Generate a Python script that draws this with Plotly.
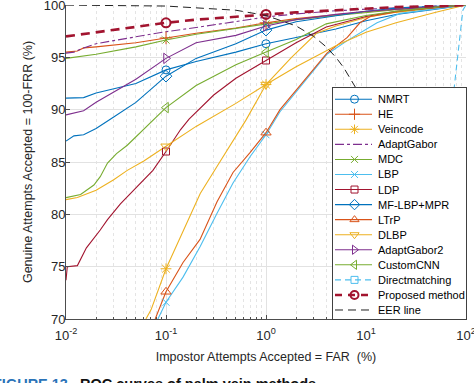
import plotly.graph_objects as go

# ---------------- data ----------------
FAR_TICKS = [0.01, 0.1, 1, 10, 100]
FAR_TICK_TEXT = ["10<sup>-2</sup>", "10<sup>-1</sup>", "10<sup>0</sup>", "10<sup>1</sup>", "10<sup>2</sup>"]
GAR_TICKS = [70, 75, 80, 85, 90, 95, 100]
MARKER_FAR = [0.1, 1]

nmrt_far = [0.01, 0.015, 0.02, 0.03, 0.05, 0.1, 0.2, 0.5, 1, 2, 5, 10, 20, 50, 100]
nmrt_gar = [91.1, 91.15, 91.6, 92.0, 92.5, 93.8, 94.6, 95.5, 96.3, 96.9, 97.7, 98.5, 99.1, 99.6, 100]

he_far = [0.01, 0.013, 0.015, 0.02, 0.05, 0.1, 0.2, 0.5, 1, 2, 5, 10, 20, 50, 100]
he_gar = [95.5, 95.6, 95.9, 96.0, 96.4, 96.85, 97.3, 97.8, 98.3, 98.7, 99.1, 99.35, 99.6, 99.85, 100]

veincode_far = [0.063, 0.071, 0.1, 0.15, 0.22, 0.32, 0.47, 0.63, 1, 1.8, 3.2, 5, 10, 20, 50, 100]
veincode_gar = [70.0, 70.9, 74.8, 78.5, 82.0, 84.5, 87.1, 89.0, 92.4, 95.0, 97.3, 98.0, 98.8, 99.3, 99.7, 100]

adaptgabor_far = [0.01, 0.012, 0.015, 0.02, 0.03, 0.05, 0.1, 0.2, 0.5, 1, 2, 5, 10, 20, 50, 100]
adaptgabor_gar = [95.4, 95.5, 95.9, 96.3, 96.6, 96.95, 97.45, 97.85, 98.4, 98.85, 99.15, 99.45, 99.6, 99.75, 99.9, 100]

mdc_far = [0.01, 0.02, 0.05, 0.1, 0.2, 0.5, 1, 2, 5, 10, 20, 50, 100]
mdc_gar = [94.9, 95.3, 96.0, 96.65, 97.2, 97.75, 98.2, 98.6, 99.0, 99.3, 99.55, 99.8, 100]

lbp_far = [0.083, 0.1, 0.148, 0.219, 0.324, 0.468, 0.692, 1, 1.38, 2.57, 4.07, 6.5, 8.7, 12.9, 22, 55, 100]
lbp_gar = [70.0, 71.6, 74.0, 76.9, 80.1, 83.0, 85.5, 87.6, 89.8, 92.9, 95.3, 96.6, 97.3, 98.3, 99.2, 99.7, 100]

ldp_far = [0.01, 0.0103, 0.013, 0.016, 0.022, 0.026, 0.035, 0.051, 0.074, 0.1, 0.14, 0.17, 0.3, 0.5, 1, 2, 4, 10, 20, 100]
ldp_gar = [73.7, 75.0, 75.1, 76.8, 78.5, 79.5, 81.0, 82.6, 84.2, 86.0, 88.1, 89.1, 91.4, 93.0, 94.7, 96.4, 97.9, 98.9, 99.4, 100]

mflbp_far = [0.01, 0.012, 0.015, 0.02, 0.03, 0.05, 0.1, 0.2, 0.5, 1, 2, 5, 10, 20, 100]
mflbp_gar = [87.0, 87.5, 87.6, 88.2, 89.3, 90.7, 93.2, 94.9, 96.3, 97.6, 98.4, 99.0, 99.4, 99.7, 100]

ltrp_far = [0.078, 0.1, 0.148, 0.219, 0.324, 0.468, 0.692, 1, 1.38, 2.57, 4.07, 6.5, 8.7, 11, 22, 50, 100]
ltrp_gar = [70.0, 72.6, 75.4, 77.6, 81.2, 84.0, 85.9, 87.8, 90.0, 93.1, 95.4, 96.9, 98.3, 98.9, 99.4, 99.8, 100]

dlbp_far = [0.01, 0.013, 0.02, 0.03, 0.041, 0.06, 0.1, 0.2, 0.5, 1, 2, 5, 10, 20, 50, 100]
dlbp_gar = [81.4, 81.6, 82.3, 83.3, 84.2, 85.1, 86.5, 88.4, 90.6, 92.4, 94.1, 96.1, 97.4, 98.3, 99.3, 100]

adaptgabor2_far = [0.01, 0.015, 0.02, 0.03, 0.05, 0.1, 0.2, 0.5, 1, 2, 5, 10, 100]
adaptgabor2_gar = [89.5, 89.9, 90.7, 91.7, 92.9, 94.9, 96.4, 97.1, 98.0, 98.6, 99.1, 99.4, 100]

customcnn_far = [0.01, 0.014, 0.019, 0.022, 0.026, 0.032, 0.041, 0.055, 0.074, 0.1, 0.2, 0.5, 1, 2, 4, 10, 20, 50, 100]
customcnn_gar = [81.6, 81.9, 82.8, 83.6, 84.9, 85.8, 86.6, 87.8, 89.0, 90.2, 92.3, 94.3, 95.5, 96.7, 98.2, 99.0, 99.4, 99.8, 100]

direct_far = [42, 57, 78, 93, 100]
direct_gar = [70.0, 81.5, 92.8, 99.5, 100]

proposed_far = [0.01, 0.02, 0.05, 0.1, 0.2, 0.5, 1, 2, 5, 10, 20, 50, 100]
proposed_gar = [97.0, 97.4, 97.9, 98.3, 98.6, 98.9, 99.1, 99.3, 99.5, 99.65, 99.8, 99.9, 100]

eer_far = [0.01, 0.1, 0.5, 1, 2, 3, 4, 5, 6, 8, 10, 13, 16, 20, 25, 30]
eer_gar = [99.99, 99.9, 99.5, 99, 98, 97, 96, 95, 94, 92, 90, 87, 84, 80, 75, 70]

# ---------------- styles ----------------
BLUE, ORANGE, YELLOW, PURPLE = "#0072BD", "#D95319", "#EDB120", "#7E2F8E"
GREEN, CYAN, MAROON = "#77AC30", "#4DBEEE", "#A2142F"

series = [
    dict(name="NMRT", far=nmrt_far, gar=nmrt_gar, color=BLUE, dash="solid", symbol="circle-open", w=1.1, ms=8),
    dict(name="HE", far=he_far, gar=he_gar, color=ORANGE, dash="solid", symbol="cross-thin-open", w=1.1, ms=9),
    dict(name="Veincode", far=veincode_far, gar=veincode_gar, color=YELLOW, dash="solid", symbol="asterisk-open", w=1.1, ms=9),
    dict(name="AdaptGabor", far=adaptgabor_far, gar=adaptgabor_gar, color=PURPLE, dash="dashdot", symbol=None, w=1.1, ms=0),
    dict(name="MDC", far=mdc_far, gar=mdc_gar, color=GREEN, dash="solid", symbol="x-thin-open", w=1.1, ms=7),
    dict(name="LBP", far=lbp_far, gar=lbp_gar, color=CYAN, dash="solid", symbol="x-thin-open", w=1.1, ms=7),
    dict(name="LDP", far=ldp_far, gar=ldp_gar, color=MAROON, dash="solid", symbol="square-open", w=1.1, ms=7),
    dict(name="MF-LBP+MPR", far=mflbp_far, gar=mflbp_gar, color=BLUE, dash="solid", symbol="diamond-open", w=1.1, ms=9),
    dict(name="LTrP", far=ltrp_far, gar=ltrp_gar, color=ORANGE, dash="solid", symbol="triangle-up-open", w=1.1, ms=9),
    dict(name="DLBP", far=dlbp_far, gar=dlbp_gar, color=YELLOW, dash="solid", symbol="triangle-down-open", w=1.1, ms=9),
    dict(name="AdaptGabor2", far=adaptgabor2_far, gar=adaptgabor2_gar, color=PURPLE, dash="solid", symbol="triangle-right-open", w=1.1, ms=9),
    dict(name="CustomCNN", far=customcnn_far, gar=customcnn_gar, color=GREEN, dash="solid", symbol="triangle-left-open", w=1.1, ms=9),
    dict(name="Directmatching", far=direct_far, gar=direct_gar, color=CYAN, dash="6px,4px", symbol="square-open", w=1.1, ms=7),
    dict(name="Proposed method", far=proposed_far, gar=proposed_gar, color=MAROON, dash="9px,6px", symbol="circle-open", w=2.6, ms=9),
    dict(name="EER line", far=eer_far, gar=eer_gar, color="#222222", dash="8px,5px", symbol=None, w=1.0, ms=0),
]

FONT = "Liberation Sans, Arial, Helvetica, sans-serif"
fig = go.Figure()

# ---------------- curves ----------------
for s in series:
    fig.add_trace(go.Scatter(x=s["far"], y=s["gar"], mode="lines", showlegend=False,
                             line=dict(color=s["color"], width=s["w"], dash=s["dash"]),
                             hoverinfo="skip"))
for s in series:
    if s["symbol"] is None:
        continue
    mx = [f for f in s["far"] if f in MARKER_FAR]
    my = [g for f, g in zip(s["far"], s["gar"]) if f in MARKER_FAR]
    fig.add_trace(go.Scatter(x=mx, y=my, mode="markers", showlegend=False,
                             marker=dict(symbol=s["symbol"], size=s["ms"], color=s["color"],
                                         line=dict(color=s["color"], width=2 if s["w"] > 2 else 1)),
                             hoverinfo="skip"))

# ---------------- custom legend (inset axes) ----------------
LEG_H = 231.0
ROW0, ROW_STEP = 11.0, 15.07
for i, s in enumerate(series):
    yy = ROW0 + ROW_STEP * i
    fig.add_trace(go.Scatter(x=[2, 39], y=[yy, yy], mode="lines", xaxis="x2", yaxis="y2",
                             showlegend=False, hoverinfo="skip",
                             line=dict(color=s["color"], width=s["w"] if s["w"] < 2 else 2.4,
                                       dash=s["dash"] if s["dash"] != "9px,6px" else "7px,6px")))
    if s["symbol"] is not None:
        fig.add_trace(go.Scatter(x=[21.5], y=[yy], mode="markers", xaxis="x2", yaxis="y2",
                                 showlegend=False, hoverinfo="skip",
                                 marker=dict(symbol=s["symbol"], size=min(s["ms"], 8), color=s["color"],
                                             line=dict(color=s["color"], width=2 if s["w"] > 2 else 1))))
    fig.add_annotation(x=43, y=yy, xref="x2", yref="y2", text=s["name"], showarrow=False,
                       xanchor="left", yanchor="middle",
                       font=dict(family=FONT, size=11, color="#000000"))

fig.add_shape(type="rect", xref="x2", yref="y2", x0=0, x1=133, y0=0, y1=LEG_H,
              fillcolor="white", line=dict(width=0), layer="below")

minor_vals = [k * 10.0 ** e for e in range(-2, 2) for k in range(2, 10)]

fig.update_layout(
    width=474, height=383,
    margin=dict(l=66, r=8, t=5, b=64, autoexpand=False),
    paper_bgcolor="white", plot_bgcolor="white",
    font=dict(family=FONT, size=13, color="#262626"),
    xaxis=dict(type="log", range=[-2, 2], tickvals=FAR_TICKS, ticktext=FAR_TICK_TEXT, automargin=False,
               showgrid=True, gridcolor="#e2e2e2", gridwidth=1, zeroline=False,
               showline=True, linecolor="#4d4d4d", linewidth=1, ticks="inside", ticklen=4,
               tickcolor="#4d4d4d", ticklabelstandoff=4, ticklabeloverflow="allow",
               minor=dict(tickvals=minor_vals, showgrid=True, gridcolor="#e4e4e4", griddash="dot",
                          ticks="inside", ticklen=2, tickcolor="#4d4d4d"),
               title=dict(text="Impostor Attempts Accepted = FAR\u00a0 (%)", font=dict(size=12.5), standoff=10),
               tickfont=dict(size=13)),
    yaxis=dict(range=[70, 100], tickvals=GAR_TICKS, showgrid=True, gridcolor="#e2e2e2", automargin=False,
               zeroline=False, showline=True, linecolor="#4d4d4d", linewidth=1,
               ticks="inside", ticklen=4, tickcolor="#4d4d4d", ticklabeloverflow="allow",
               ticklabelstandoff=-3,
               title=dict(text="Genuine Attempts Accepted = 100-FRR (%)", font=dict(size=12.5), standoff=8),
               tickfont=dict(size=13)),
    xaxis2=dict(domain=[0.6675, 1.0], range=[0, 133], anchor="y2", showgrid=False, zeroline=False,
                automargin=False, showticklabels=False, ticks="", showline=True, mirror=True,
                linecolor="#404040", linewidth=1),
    yaxis2=dict(domain=[0.0, 0.735], range=[LEG_H, 0], anchor="x2", showgrid=False, zeroline=False,
                automargin=False, showticklabels=False, ticks="", showline=True, mirror=True,
                linecolor="#404040", linewidth=1),
    showlegend=False,
)

fig.add_annotation(xref="paper", yref="paper", x=-0.1875, y=-0.176, xanchor="left", yanchor="top",
                   showarrow=False,
                   text="<b><span style='color:#2a73b8'>FIGURE 13.</span>\u00a0\u00a0ROC curves of palm vein methods</b>",
                   font=dict(family=FONT, size=14.5, color="#111111"))

fig.write_html("out.html", config={"displayModeBar": False},
               post_script="document.body.style.margin='0';document.body.style.overflow='hidden';")
